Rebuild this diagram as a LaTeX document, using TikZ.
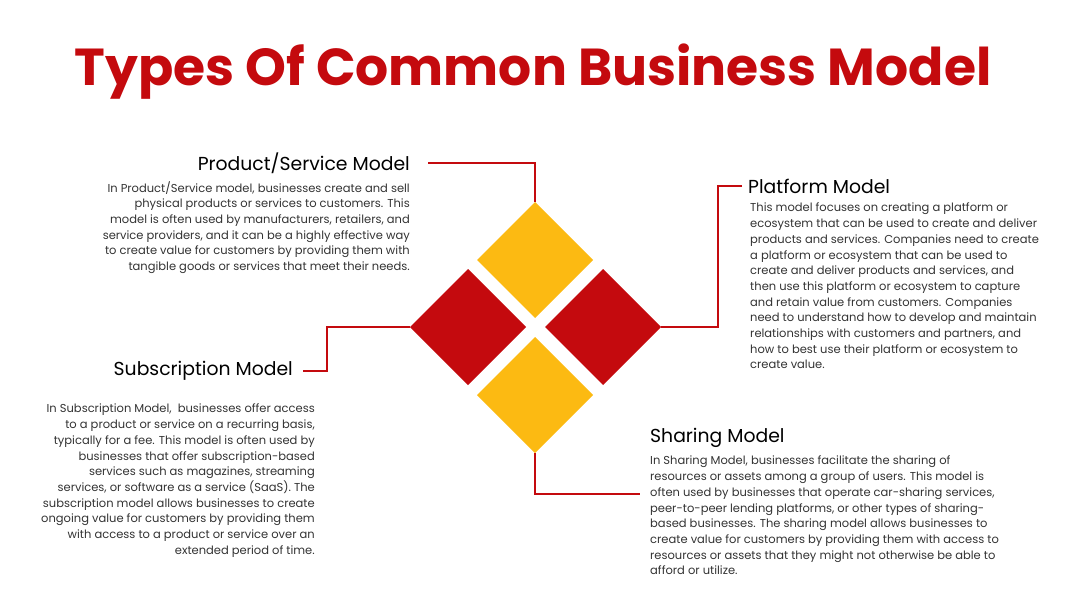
\documentclass[tikz,border=0pt]{standalone}
\usepackage{fontspec}
\setmainfont{Poppins}
\definecolor{bizred}{RGB}{196,10,14}
\definecolor{bizyellow}{RGB}{252,186,18}
\begin{document}
\begin{tikzpicture}[x=1pt, y=-1pt]
  \tikzset{
    head/.style={font=\fontsize{18.8}{22}\selectfont, inner sep=0pt},
    body/.style={font=\fontsize{11.5}{15.7}\selectfont, inner sep=0pt, text=black!80},
    link/.style={draw=bizred, line width=1.6pt},
    tile/.style={draw=none}
  }
  \useasboundingbox (0,0) rectangle (1067,600);
  \node[font=\fontsize{52}{58}\selectfont\bfseries, text=bizred] (title) at (533,72) {Types Of Common Business Model};
  % tiles
  \fill[bizyellow] (535,202) -- (593,260) -- (535,318) -- (477,260) -- cycle;
  \fill[bizred] (468,269) -- (526,327) -- (468,385) -- (410,327) -- cycle;
  \fill[bizred] (603,269) -- (661,327) -- (603,385) -- (545,327) -- cycle;
  \fill[bizyellow] (535,337) -- (593,395) -- (535,453) -- (477,395) -- cycle;
  \coordinate (top) at (535,202);
  \coordinate (left) at (410,327);
  \coordinate (right) at (661,327);
  \coordinate (bottom) at (535,453);
  % headings
  \node[head, anchor=east] (product) at (410,163) {Product/Service Model};
  \node[head, anchor=west] (platform) at (748,186) {Platform Model};
  \node[head, anchor=east] (subscription) at (293,371) {Subscription Model};
  \node[head, anchor=west] (sharing) at (650,438) {Sharing Model};
  % connectors
  \draw[link] (product.east) ++(18,0) coordinate (p1) -- (p1 -| top) -- (top);
  \draw[link] (platform.west) ++(-6,0) coordinate (q1) -- ++(-24,0) coordinate (q2) -- (q2 |- right) -- (right);
  \draw[link] (subscription.east) ++(10,0) coordinate (s1) -- ++(24,0) coordinate (s2) -- (s2 |- left) -- (left);
  \draw[link] (bottom) -- ++(0,41) coordinate (h1) -- ([xshift=-10pt]h1 -| sharing.west);
  % bodies
  \node[body, anchor=north east, align=right] (productText) at (410,181) {In Product/Service model, businesses create and sell\\physical products or services to customers. This\\model is often used by manufacturers, retailers, and\\service providers, and it can be a highly effective way\\to create value for customers by providing them with\\tangible goods or services that meet their needs.};
  \node[body, anchor=north west, align=left] (platformText) at (750,203) {This model focuses on creating a platform or\\ecosystem that can be used to create and deliver\\products and services. Companies need to create\\a platform or ecosystem that can be used to\\create and deliver products and services, and\\then use this platform or ecosystem to capture\\and retain value from customers. Companies\\need to understand how to develop and maintain\\relationships with customers and partners, and\\how to best use their platform or ecosystem to\\create value.};
  \node[body, anchor=north east, align=right] (subscriptionText) at (315,404) {In Subscription Model,\ \ businesses offer access\\to a product or service on a recurring basis,\\typically for a fee. This model is often used by\\businesses that offer subscription-based\\services such as magazines, streaming\\services, or software as a service (SaaS). The\\subscription model allows businesses to create\\ongoing value for customers by providing them\\with access to a product or service over an\\extended period of time.};
  \node[body, anchor=north west, align=left] (sharingText) at (650,456) {In Sharing Model, businesses facilitate the sharing of\\resources or assets among a group of users. This model is\\often used by businesses that operate car-sharing services,\\peer-to-peer lending platforms, or other types of sharing-\\based businesses. The sharing model allows businesses to\\create value for customers by providing them with access to\\resources or assets that they might not otherwise be able to\\afford or utilize.};
\end{tikzpicture}
\end{document}
